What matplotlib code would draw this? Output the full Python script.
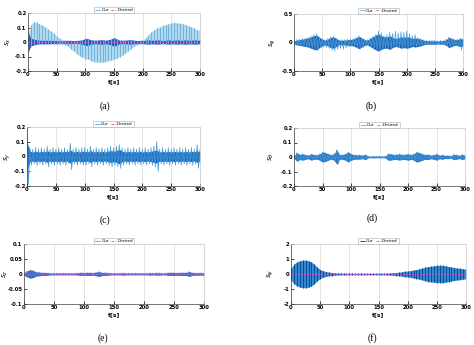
import numpy as np
import matplotlib
matplotlib.use('Agg')
from matplotlib import pyplot as plt
from matplotlib.ticker import FormatStrFormatter

plt.rcParams['axes.unicode_minus'] = False
plt.rcParams['font.family'] = ['DejaVu Sans']

#################################################
# values, one per 5 seconds #
#################################################

t = np.arange(0, 301, 5)

# (a) s_x : light envelope (upper / lower) and dark core amplitude
a_upper = [0.06, 0.12, 0.14, 0.135, 0.125, 0.115, 0.105, 0.09, 0.075, 0.06,
	0.04, 0.025, 0.015, 0.012, 0.01, 0.012, 0.01, 0.012, 0.01, 0.015,
	0.025, 0.02, 0.015, 0.012, 0.012, 0.015, 0.015, 0.012, 0.015, 0.02,
	0.03, 0.02, 0.012, 0.012, 0.012, 0.015, 0.015, 0.012, 0.01, 0.012,
	0.015, 0.03, 0.05, 0.07, 0.085, 0.095, 0.105, 0.115, 0.12, 0.125,
	0.13, 0.135, 0.13, 0.13, 0.125, 0.12, 0.11, 0.105, 0.095, 0.085,
	0.08]
a_lower = [-0.07, -0.03, -0.02, -0.015, -0.015, -0.015, -0.015, -0.015, -0.015, -0.015,
	-0.015, -0.015, -0.015, -0.02, -0.03, -0.05, -0.065, -0.08, -0.095, -0.105,
	-0.115, -0.12, -0.13, -0.135, -0.14, -0.14, -0.14, -0.135, -0.13, -0.125,
	-0.12, -0.11, -0.1, -0.09, -0.075, -0.06, -0.045, -0.03, -0.02, -0.015,
	-0.015, -0.015, -0.015, -0.015, -0.015, -0.015, -0.015, -0.015, -0.015, -0.015,
	-0.015, -0.015, -0.015, -0.015, -0.015, -0.015, -0.015, -0.015, -0.015, -0.015,
	-0.015]
a_core = [0.07, 0.025, 0.02, 0.015, 0.012, 0.012, 0.012, 0.012, 0.01, 0.01,
	0.01, 0.008, 0.008, 0.01, 0.012, 0.01, 0.01, 0.01, 0.012, 0.015,
	0.025, 0.022, 0.015, 0.012, 0.012, 0.015, 0.015, 0.012, 0.015, 0.02,
	0.03, 0.02, 0.012, 0.012, 0.012, 0.015, 0.015, 0.012, 0.01, 0.01,
	0.01, 0.012, 0.015, 0.012, 0.012, 0.015, 0.012, 0.01, 0.012, 0.015,
	0.012, 0.012, 0.015, 0.012, 0.012, 0.015, 0.012, 0.012, 0.015, 0.012,
	0.012]

# (b) s_phi
b_upper = [0.04, 0.05, 0.06, 0.07, 0.08, 0.09, 0.11, 0.14, 0.15, 0.1,
	0.07, 0.05, 0.07, 0.1, 0.11, 0.08, 0.05, 0.05, 0.05, 0.06,
	0.06, 0.07, 0.09, 0.12, 0.09, 0.06, 0.05, 0.08, 0.11, 0.14,
	0.2, 0.17, 0.12, 0.14, 0.18, 0.16, 0.2, 0.17, 0.19, 0.18,
	0.2, 0.15, 0.12, 0.14, 0.09, 0.07, 0.05, 0.04, 0.04, 0.04,
	0.04, 0.03, 0.04, 0.04, 0.06, 0.1, 0.08, 0.06, 0.06, 0.08,
	0.07]
b_lower = [-0.04, -0.05, -0.06, -0.07, -0.08, -0.09, -0.11, -0.13, -0.14, -0.1,
	-0.08, -0.09, -0.1, -0.14, -0.15, -0.12, -0.1, -0.12, -0.1, -0.08,
	-0.07, -0.07, -0.09, -0.12, -0.09, -0.06, -0.05, -0.08, -0.1, -0.13,
	-0.15, -0.12, -0.1, -0.1, -0.12, -0.09, -0.08, -0.09, -0.1, -0.09,
	-0.1, -0.09, -0.07, -0.08, -0.07, -0.06, -0.04, -0.04, -0.04, -0.04,
	-0.04, -0.03, -0.04, -0.04, -0.06, -0.1, -0.08, -0.06, -0.08, -0.13,
	-0.08]
b_core = [0.03, 0.04, 0.05, 0.06, 0.07, 0.08, 0.1, 0.12, 0.13, 0.09,
	0.06, 0.04, 0.06, 0.09, 0.1, 0.07, 0.04, 0.04, 0.04, 0.05,
	0.05, 0.06, 0.08, 0.11, 0.08, 0.05, 0.04, 0.07, 0.1, 0.13,
	0.15, 0.12, 0.1, 0.1, 0.12, 0.09, 0.07, 0.08, 0.1, 0.09,
	0.1, 0.09, 0.07, 0.08, 0.07, 0.06, 0.04, 0.03, 0.03, 0.03,
	0.03, 0.025, 0.03, 0.03, 0.05, 0.09, 0.07, 0.05, 0.05, 0.07,
	0.06]

# (c) s_y
c_amp = [0.19, 0.06, 0.05, 0.06, 0.05, 0.06, 0.05, 0.07, 0.05, 0.06,
	0.05, 0.06, 0.05, 0.06, 0.05, 0.09, 0.05, 0.06, 0.05, 0.06,
	0.06, 0.05, 0.07, 0.05, 0.06, 0.05, 0.06, 0.05, 0.06, 0.07,
	0.06, 0.07, 0.08, 0.06, 0.05, 0.06, 0.05, 0.06, 0.05, 0.06,
	0.05, 0.06, 0.05, 0.06, 0.07, 0.1, 0.05, 0.06, 0.05, 0.06,
	0.05, 0.06, 0.05, 0.06, 0.05, 0.06, 0.05, 0.06, 0.05, 0.08,
	0.05]
c_core = [0.1, 0.035, 0.03, 0.035, 0.03, 0.035, 0.03, 0.04, 0.03, 0.035,
	0.03, 0.035, 0.03, 0.035, 0.03, 0.045, 0.03, 0.035, 0.03, 0.035,
	0.035, 0.03, 0.04, 0.03, 0.035, 0.03, 0.035, 0.03, 0.035, 0.04,
	0.035, 0.04, 0.05, 0.035, 0.03, 0.035, 0.03, 0.035, 0.03, 0.035,
	0.03, 0.035, 0.03, 0.035, 0.04, 0.045, 0.03, 0.035, 0.03, 0.035,
	0.03, 0.035, 0.03, 0.035, 0.03, 0.035, 0.03, 0.035, 0.03, 0.04,
	0.03]

# (d) s_theta
d_amp = [0.008, 0.03, 0.018, 0.022, 0.016, 0.012, 0.022, 0.016, 0.015, 0.022,
	0.035, 0.03, 0.022, 0.015, 0.022, 0.05, 0.016, 0.016, 0.022, 0.035,
	0.022, 0.016, 0.015, 0.015, 0.012, 0.018, 0.006, 0.005, 0.007, 0.005,
	0.006, 0.005, 0.006, 0.022, 0.022, 0.016, 0.018, 0.022, 0.016, 0.018,
	0.022, 0.016, 0.022, 0.035, 0.03, 0.022, 0.016, 0.018, 0.012, 0.016,
	0.022, 0.012, 0.016, 0.01, 0.012, 0.008, 0.018, 0.016, 0.01, 0.018,
	0.012]

# (e) s_z
e_amp = [0.004, 0.01, 0.014, 0.012, 0.007, 0.006, 0.005, 0.005, 0.004, 0.003,
	0.003, 0.003, 0.003, 0.003, 0.003, 0.003, 0.003, 0.003, 0.004, 0.005,
	0.004, 0.005, 0.005, 0.004, 0.006, 0.008, 0.005, 0.005, 0.004, 0.003,
	0.003, 0.003, 0.003, 0.004, 0.003, 0.003, 0.003, 0.003, 0.003, 0.003,
	0.003, 0.003, 0.004, 0.003, 0.004, 0.004, 0.003, 0.003, 0.005, 0.005,
	0.005, 0.004, 0.005, 0.005, 0.005, 0.008, 0.005, 0.004, 0.004, 0.004,
	0.004]

# (f) s_psi
f_amp = [0.4, 0.65, 0.8, 0.88, 0.92, 0.92, 0.88, 0.8, 0.65, 0.45,
	0.3, 0.22, 0.16, 0.12, 0.1, 0.08, 0.07, 0.06, 0.05, 0.05,
	0.05, 0.05, 0.05, 0.05, 0.05, 0.05, 0.05, 0.05, 0.05, 0.05,
	0.05, 0.05, 0.05, 0.06, 0.07, 0.09, 0.1, 0.12, 0.15, 0.18,
	0.2, 0.23, 0.27, 0.3, 0.35, 0.4, 0.45, 0.5, 0.52, 0.55,
	0.57, 0.58, 0.57, 0.55, 0.5, 0.47, 0.43, 0.4, 0.37, 0.35,
	0.32]

desired = np.zeros(len(t))

x_ticks = [0, 50, 100, 150, 200, 250, 300]

LIGHT = '#6ab2de'
DARK = '#1f62b8'
MAGENTA = '#d048d8'

# figure box of every panel in pixels: left, top, right, bottom
W, H = 474, 345

def add_axes_px(fig, x0, y0, x1, y1):
	return fig.add_axes([x0 / W, 1 - y1 / H, (x1 - x0) / W, (y1 - y0) / H])

# zigzag between two envelopes, half a step apart
def zigzag(upper, lower):
	tz = np.column_stack([t, t + 2.5]).ravel()
	yz = np.column_stack([upper, lower]).ravel()
	return tz, yz

# common matlab-ish look of an axis; label_dx is the y label offset in pixels
def style_axis(ax, ylim, yticks, ylabel, label_dx, our, des):
	ax.set_xlim(0, 300)
	ax.set_ylim(*ylim)
	ax.set_xticks(x_ticks)
	ax.set_yticks(yticks)
	ax.yaxis.set_major_formatter(FormatStrFormatter('%g'))
	ax.tick_params(direction='in', length=2, width=0.5, labelsize=3.8, pad=1)
	for lab in ax.get_xticklabels() + ax.get_yticklabels():
		lab.set_fontweight('bold')
	ax.grid(axis='x', color='#d8d8d8', lw=0.5)
	ax.set_axisbelow(True)
	for side in ['left', 'bottom']:
		ax.spines[side].set_color('#404040')
		ax.spines[side].set_linewidth(0.5)
	for side in ['top', 'right']:
		ax.spines[side].set_color('#c8c8c8')
		ax.spines[side].set_linewidth(0.5)
	ax.set_xlabel('t[s]', fontsize=4.5, fontweight='bold', labelpad=1)
	ax.set_ylabel(ylabel, fontsize=5)
	width_px = ax.get_position().width * W
	ax.yaxis.set_label_coords(label_dx / width_px, 0.5)
	leg = ax.legend([our, des], ['Our', 'Desired'], loc='lower center',
		bbox_to_anchor=(0.5, 0.96), ncol=2, fontsize=3, handlelength=1.2,
		handletextpad=0.3, columnspacing=0.5, borderpad=0.3, frameon=True,
		fancybox=False)
	leg.get_frame().set_linewidth(0.4)
	leg.get_frame().set_edgecolor('#999999')

def draw_desired(ax):
	return ax.plot(t, desired, color=MAGENTA, lw=0.6, ls=(0, (3, 2)))[0]

fig = plt.figure(figsize=(W / 100, H / 100), dpi=100)

# (a)
ax = add_axes_px(fig, 28, 13, 200, 71)
ax.fill_between(t, a_lower, a_upper, color='#b3d9ef', lw=0)
our = ax.vlines(t, a_lower, a_upper, color=LIGHT, lw=0.7)
ax.fill_between(t, -np.array(a_core), a_core, color=DARK, lw=0)
des = draw_desired(ax)
style_axis(ax, (-0.2, 0.2), [-0.2, -0.1, 0, 0.1, 0.2], '$s_x$', -15, our, des)

# (b)
ax = add_axes_px(fig, 294, 14, 463, 71)
tz, yz = zigzag(b_upper, b_lower)
our = ax.plot(tz, yz, color='#4a9fd8', lw=0.5)[0]
ax.fill_between(t, -np.array(b_core), b_core, color=DARK, lw=0)
des = draw_desired(ax)
style_axis(ax, (-0.5, 0.5), [-0.5, 0, 0.5], r'$s_\varphi$', -16, our, des)

# (c)
ax = add_axes_px(fig, 27, 127, 200, 186)
tz, yz = zigzag(c_amp, -np.array(c_amp))
our = ax.plot(tz, yz, color='#3f95d4', lw=0.5)[0]
ax.fill_between(t, -np.array(c_core), c_core, color='#1f6bbd', lw=0)
des = draw_desired(ax)
style_axis(ax, (-0.2, 0.2), [-0.2, -0.1, 0, 0.1, 0.2], '$s_y$', -14, our, des)

# (d)
ax = add_axes_px(fig, 294, 128, 465, 186)
tz, yz = zigzag(d_amp, -np.array(d_amp))
ax.fill_between(t, -np.array(d_amp), d_amp, color='#2a78c6', lw=0)
our = ax.plot(tz, yz, color='#3f95d4', lw=0.5)[0]
des = draw_desired(ax)
style_axis(ax, (-0.2, 0.2), [-0.2, -0.1, 0, 0.1, 0.2], r'$s_\theta$', -18, our, des)

# (e)
ax = add_axes_px(fig, 24, 244, 204, 304)
tz, yz = zigzag(e_amp, -np.array(e_amp))
ax.fill_between(t, -np.array(e_amp), e_amp, color='#2a6fc0', lw=0)
our = ax.plot(tz, yz, color='#3f88d0', lw=0.5)[0]
des = draw_desired(ax)
style_axis(ax, (-0.1, 0.1), [-0.1, -0.05, 0, 0.05, 0.1], '$s_z$', -14, our, des)

# (f)
ax = add_axes_px(fig, 291, 244, 466, 304)
ax.fill_between(t, -np.array(f_amp), f_amp, color='#2f8ad2', lw=0)
our = ax.vlines(t, -np.array(f_amp), f_amp, color='#0f4c8e', lw=0.7)
des = draw_desired(ax)
style_axis(ax, (-2, 2), [-2, -1, 0, 1, 2], r'$s_\psi$', -15, our, des)

# panel letters
letters = ['(a)', '(b)', '(c)', '(d)', '(e)', '(f)']
letter_pos = [(105, 106), (371, 106), (105, 220), (372, 218), (103, 338), (372, 338)]
for txt, (x, y) in zip(letters, letter_pos):
	fig.text(x / W, 1 - y / H, txt, ha='center', va='center', fontsize=7,
		family='Liberation Serif')

fig.savefig('out.png', dpi=100)
